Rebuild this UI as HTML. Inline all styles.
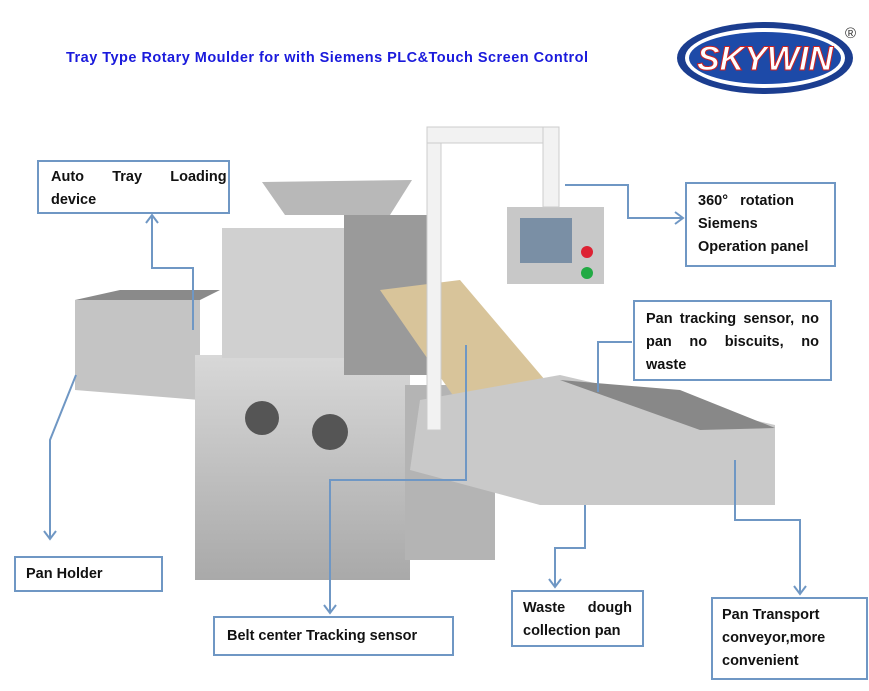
<!DOCTYPE html>
<html><head><meta charset="utf-8"><style>
body{margin:0;background:#fff;width:869px;height:691px;overflow:hidden;font-family:"Liberation Sans",Arial,sans-serif}
svg{position:absolute;left:0;top:0}
.b{position:absolute;border:2px solid #6f97c4;background:#fff;font-weight:bold;font-size:14.5px;color:#111;line-height:23px;padding:4px 10px;box-sizing:border-box}
.j{text-align:justify;text-align-last:left}
</style></head><body>
<svg width="869" height="691">
<defs><linearGradient id="m" x1="0" x2="0" y1="0" y2="1"><stop offset="0" stop-color="#d8d8d8"/><stop offset="1" stop-color="#a9a9a9"/></linearGradient></defs>
<polygon points="75,300 200,300 200,400 75,390" fill="#c4c4c4"/>
<polygon points="75,300 120,290 220,290 200,300" fill="#8a8a8a"/>
<rect x="195" y="355" width="215" height="225" fill="url(#m)"/>
<rect x="405" y="385" width="90" height="175" fill="#b4b4b4"/>
<rect x="222" y="228" width="122" height="130" fill="#d0d0d0"/>
<polygon points="262,182 412,180 390,215 285,215" fill="#b8b8b8"/>
<rect x="344" y="215" width="90" height="160" fill="#9a9a9a"/>
<polygon points="380,290 460,280 545,380 470,420" fill="#d8c49a"/>
<polygon points="420,400 560,375 775,425 775,505 540,505 410,470" fill="#c9c9c9"/>
<polygon points="560,380 680,390 775,428 700,430" fill="#888"/>
<rect x="507" y="207" width="97" height="77" fill="#c8c8c8"/>
<rect x="520" y="218" width="52" height="45" fill="#7a8fa5"/>
<circle cx="587" cy="252" r="6" fill="#d23"/><circle cx="587" cy="273" r="6" fill="#2a4"/>
<rect x="427" y="130" width="14" height="300" fill="#f2f2f2" stroke="#ccc"/>
<rect x="427" y="127" width="130" height="16" fill="#f2f2f2" stroke="#ccc"/>
<rect x="543" y="127" width="16" height="80" fill="#f2f2f2" stroke="#ccc"/>
<circle cx="262" cy="418" r="17" fill="#555"/><circle cx="330" cy="432" r="18" fill="#555"/>
<ellipse cx="765" cy="58" rx="88" ry="36" fill="#1b3d8f"/>
<ellipse cx="765" cy="58" rx="80" ry="30" fill="#fff"/>
<ellipse cx="765" cy="58" rx="76" ry="26" fill="#1d4aa8"/>
<text x="765" y="70" text-anchor="middle" font-family="Liberation Sans" font-weight="bold" font-style="italic" font-size="34" fill="#fff" stroke="#c22" stroke-width="1">SKYWIN</text>
<text x="845" y="38" font-size="15" fill="#333">®</text>
<text x="66" y="62" font-family="Liberation Sans" font-weight="bold" font-size="14.5" fill="#1a1adc" textLength="522" lengthAdjust="spacing">Tray Type Rotary Moulder for with Siemens PLC&amp;Touch Screen Control</text>
<g stroke="#6f97c4" stroke-width="2" fill="none">
<polyline points="193,330 193,268 152,268 152,216"/><polyline points="146,223 152,215 158,223"/>
<polyline points="565,185 628,185 628,218 682,218"/><polyline points="675,212 683,218 675,224"/>
<polyline points="632,342 598,342 598,392"/>
<polyline points="76,375 50,440 50,538" /><polyline points="44,531 50,539 56,531"/>
<polyline points="466,345 466,480 330,480 330,612"/><polyline points="324,605 330,613 336,605"/>
<polyline points="585,505 585,548 555,548 555,586"/><polyline points="549,579 555,587 561,579"/>
<polyline points="735,460 735,520 800,520 800,593"/><polyline points="794,586 800,594 806,586"/>
</g>
</svg>
<div class="b j" style="left:37px;top:160px;width:193px;height:54px;padding:4px 12px">Auto&nbsp;&nbsp;&nbsp;&nbsp;&nbsp;&nbsp;&nbsp;Tray&nbsp;&nbsp;&nbsp;&nbsp;&nbsp;&nbsp;&nbsp;Loading<br>device</div>
<div class="b" style="left:685px;top:182px;width:151px;height:85px;padding:6px 11px">360°&nbsp;&nbsp; rotation<br>Siemens<br>Operation panel</div>
<div class="b j" style="left:633px;top:300px;width:199px;height:81px;padding:6px 11px">Pan tracking sensor, no pan no biscuits, no waste</div>
<div class="b" style="left:14px;top:556px;width:149px;height:36px;padding:5px 10px">Pan Holder</div>
<div class="b" style="left:213px;top:616px;width:241px;height:40px;padding:7px 12px">Belt center Tracking sensor</div>
<div class="b j" style="left:511px;top:590px;width:133px;height:57px;padding:5px 10px">Waste dough collection pan</div>
<div class="b" style="left:711px;top:597px;width:157px;height:83px;padding:5px 9px">Pan Transport conveyor,more convenient</div>
</body></html>
